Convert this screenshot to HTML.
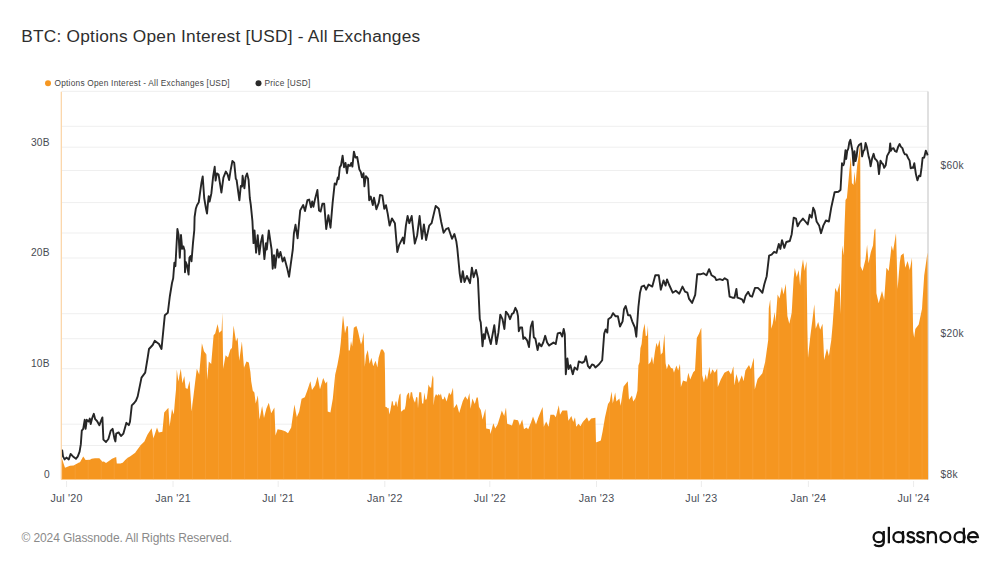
<!DOCTYPE html>
<html><head><meta charset="utf-8"><style>
html,body{margin:0;padding:0;background:#fff;width:1000px;height:563px;overflow:hidden}
svg{position:absolute;left:0;top:0;font-family:"Liberation Sans",sans-serif}
</style></head><body>
<svg width="1000" height="563" viewBox="0 0 1000 563">
<text x="21.3" y="41.6" font-size="17.3" letter-spacing="0.23" fill="#2e2e2e">BTC: Options Open Interest [USD] - All Exchanges</text>
<g stroke="#efefef" stroke-width="1"><line x1="62" x2="927" y1="126.3" y2="126.3"/><line x1="62" x2="927" y1="147.2" y2="147.2"/><line x1="62" x2="927" y1="170.5" y2="170.5"/><line x1="62" x2="927" y1="202.6" y2="202.6"/><line x1="62" x2="927" y1="233" y2="233"/><line x1="62" x2="927" y1="258" y2="258"/><line x1="62" x2="927" y1="313.7" y2="313.7"/><line x1="62" x2="927" y1="338.7" y2="338.7"/><line x1="62" x2="927" y1="368.7" y2="368.7"/><line x1="62" x2="927" y1="424.2" y2="424.2"/><line x1="62" x2="927" y1="445.5" y2="445.5"/></g>
<line x1="61.5" x2="928" y1="91.3" y2="91.3" stroke="#eeeeee" stroke-width="1"/>
<line x1="928" x2="928" y1="91.5" y2="479.5" stroke="#c6c6c6" stroke-width="1.1"/>
<defs><clipPath id="oc"><path d="M61.2 479.5L61.3 457.8L61.6 457.6L64 464.8L65 467.8L70 465.8L73.6 465.4L75 464.8L79 462.4L80 462.3L83.2 456.4L83.8 457.3L85.6 460L90 459.8L91.6 458.8L95 458.3L99.4 458.2L100 459L102.4 461.8L103.9 461.5L106 463L110 460.3L112 458.8L116.2 457L116.8 463.6L120.4 463.6L122.7 462.8L125.2 460L127.7 457.8L130 456.4L135.2 452.8L136 451.6L140.8 445L144.4 441.4L147.4 434.8L151.6 428.2L153.4 438.4L157 427.6L158.8 432.4L162.4 431.8L164.2 412.6L168.4 407.8L169.6 426.4L172 409L173.8 414.4L175 400L176 389.6L176.8 369.6L178.4 381.6L180.8 368.8L182.4 383.2L184.3 376L185.6 388L187.5 389L189.6 380.8L191.6 411.4L195.2 381.6L196.8 368.8L199.2 374.4L201.9 343.2L204 351.2L206.4 354.4L207.2 380L208.8 361.6L211.2 364L213.6 335.2L215.2 333.6L217.6 324L219.2 332.8L221.6 330.4L222.4 312.8L223.2 368.8L225.6 355.2L228 357.6L230.4 349.6L232 348L233.6 325.6L236 341.6L237.6 337.6L239.2 360.8L241.9 341.6L244 368L246.4 361.6L248.8 362.4L250.4 372L251.2 381.2L252.8 390.8L254.4 392.4L255.7 403.6L257.9 395.6L259.5 419.6L262.1 406L264 418L266.4 408.4L268.8 402.8L271.2 413.2L274.4 407.6L275.5 435.6L277.6 429.2L281.6 430L285.6 431.6L288 433.2L291.2 427.6L294.4 404.4L296.8 417.2L299.2 411.6L301.6 398.8L304.8 397.2L307.2 390.8L310.4 381.2L312 390L315.2 385.2L317.6 376.4L320 389.2L323.2 378L325.6 383.6L327.2 381.2L327.7 411.6L330.4 412.4L332.8 398.8L335.1 375.2L337.4 365L339.6 353L340.8 342.2L342 326.6L343 315.2L343.8 321.8L345 333.2L346.8 326L348 326.6L348.6 350.6L349.8 350.6L351 341L352.2 346.4L353.8 327.8L356.4 326L357.9 330.8L359.4 337.4L361 344.6L362.2 341L363.6 332L364.8 366.8L366 355.4L367.8 350L369.6 363.8L371.4 357.8L373.2 366.2L375.6 360.8L377.4 367.4L378.6 357.8L381 349.4L382.8 349.4L384.6 353L385 372L385.4 406.8L386.8 407.3L387.7 408.6L388.5 407.7L389.3 414.4L390.3 410.8L391.2 405.5L391.9 401.1L392.8 401.5L393.4 405.5L394.8 405.5L395.6 401.5L396.5 401.5L397.2 407.3L398.3 400.2L399.4 394.8L400.5 393.5L401 411.7L402.3 410.8L403.6 409.5L404.7 409.5L405.6 405.5L406.7 395.7L407.9 393.5L409 392.6L409.7 399.3L410.7 392.2L412.1 392.2L412.7 396.6L413.8 400.2L415 402.8L416.2 397.1L417.4 397.5L418 408.2L419.2 392.2L421.2 392.2L422.1 403.3L423.2 403.7L424.5 392.6L425.4 399.7L426.7 399.3L427.6 393.1L428.5 384.6L429.8 387.3L431.1 387.7L432 379.8L432.7 375.3L433.4 378L433.6 405.5L434.5 397.5L436 394L437.4 395.7L438.7 394L440 395.7L440.9 393.5L442.2 399.3L443.6 399.3L444.6 396.2L446.6 401.6L449 392.6L450.8 395L453 387.8L453.8 408.2L456.8 404L459.2 413L462.8 401L465.2 396.2L467.6 399.8L469.4 393L470.6 408.8L472.4 398.6L474.8 404L476.6 397.4L477.8 397.4L479 407L480.8 410L482.6 419.6L485.4 408.8L486.2 428.6L489.8 429.2L490.4 434L493.4 423.2L495.2 428.6L497.6 424.4L500.6 414.8L501.8 410.6L504.2 416L506 407.4L507.2 423.8L512 425.6L513.8 419.6L518 420.2L519.8 425.6L522.2 419.6L524 429.2L526.4 427.4L528.2 429.2L531.2 422L533 416.6L536 424.4L538.4 417.2L542.6 407L543.8 426.8L546.2 421.4L548.6 426.8L550.4 414.8L554 414.8L555.8 417.2L558.8 405.2L560 414.8L562.4 410.6L567.2 410.6L568.4 420.8L571.4 416L573.2 422L575 417.2L576.2 426.8L578.6 423.8L580.4 426.2L582.8 422L587 417.2L588.8 421.4L591.2 418.4L595.4 417.8L596 442.4L600.8 440.6L602.6 431.6L605 417.2L608 404L609.8 401.6L611.6 391.4L612.8 403.4L615.2 392.6L616.4 401.6L619.4 398.6L620.6 405.8L623.6 386.6L627.8 381.2L629 399.8L632 395.6L633.2 401.6L635.6 398L637.4 390.8L638.4 365.6L639.6 362L640.4 348.2L641.6 344L642.8 332L644.6 323.6L645.8 336.2L647 335.6L648 325.4L648.4 364.4L650.6 362L652 356.6L653.2 364.4L654.8 352.4L656.4 342.8L657.8 347L659.6 339.8L660.8 354.8L662.6 352.4L664.4 333.8L665.6 363.2L666.8 369.2L668.6 363.8L671 368L672.8 368.6L674 372.8L676.4 365.6L678.2 370.4L680 363.8L680.9 387L683 380.6L686.6 381.8L688.4 372.8L690.2 379.4L693.2 372.2L695 370.4L696.8 338L699.2 333.2L701.3 327.8L702.2 375.2L704 382.4L705.6 374L707 380L709.4 366.8L710.6 374.6L712.4 369.2L714.8 372.8L717.2 368.6L717.8 387L720.8 379.4L724.4 372.8L728.6 370.4L731 374.6L733.4 366.2L734.4 385.4L736.4 374L738.8 383L741.8 375.2L743.6 381.2L745.4 370.4L749 365L750.8 369.2L753.8 357.8L754.8 389.4L757.6 378.9L762.4 373.2L765.2 361.8L768.2 340L768.8 308.2L770.2 299.4L771.3 328.7L772.7 323.8L774.7 312.1L775.6 321.9L777.6 294.5L779.5 298.4L781.9 286.7L783.5 294.5L785.8 283.7L787.4 316L789.3 323.8L791.7 313.1L793.6 278.9L794.8 268.1L796.7 276.9L798.7 270.1L800.1 285.7L801.4 269.1L803 259.3L804.6 271L806.5 261.3L807.4 330L808 358L810.4 335.5L812.4 319.9L814.3 304.3L815.7 328.7L818.2 321.9L820.2 329.7L822.5 323.8L823.5 345L824.1 359.9L827 348.5L828.9 356.1L831.3 340L832.7 323.8L835.2 287.7L837.2 292.5L839.7 282.8L840.5 314L842.1 245.6L843.6 255.4L844.6 226L845.5 200L846.9 197.9L849.3 171.5L850.9 156.4L851.9 183L853.5 185L854.5 171.5L855.6 184L857.1 166.3L858.7 155.4L859.7 147.1L860.2 147.5L860.6 266.2L862.6 271L865.5 259.3L867.1 244.7L868.5 263.2L871 251.5L873 245.6L874.4 230.1L875.4 228.6L876.4 293.3L878.7 303.3L882 291.1L884.2 300L886.4 267.8L888.7 271.1L891.6 245.6L893.1 251.1L896 233.3L897.6 288.9L899.8 262.2L900.9 255.6L903.6 253.3L905.3 267.8L907.6 261.1L909.8 270L912 257.8L913.1 331.1L914.2 337.8L915.3 328.9L918.7 324.4L922 308.9L924.2 275.6L927.5 252.5L928 479.5Z"/></clipPath></defs>
<path d="M61.2 479.5L61.3 457.8L61.6 457.6L64 464.8L65 467.8L70 465.8L73.6 465.4L75 464.8L79 462.4L80 462.3L83.2 456.4L83.8 457.3L85.6 460L90 459.8L91.6 458.8L95 458.3L99.4 458.2L100 459L102.4 461.8L103.9 461.5L106 463L110 460.3L112 458.8L116.2 457L116.8 463.6L120.4 463.6L122.7 462.8L125.2 460L127.7 457.8L130 456.4L135.2 452.8L136 451.6L140.8 445L144.4 441.4L147.4 434.8L151.6 428.2L153.4 438.4L157 427.6L158.8 432.4L162.4 431.8L164.2 412.6L168.4 407.8L169.6 426.4L172 409L173.8 414.4L175 400L176 389.6L176.8 369.6L178.4 381.6L180.8 368.8L182.4 383.2L184.3 376L185.6 388L187.5 389L189.6 380.8L191.6 411.4L195.2 381.6L196.8 368.8L199.2 374.4L201.9 343.2L204 351.2L206.4 354.4L207.2 380L208.8 361.6L211.2 364L213.6 335.2L215.2 333.6L217.6 324L219.2 332.8L221.6 330.4L222.4 312.8L223.2 368.8L225.6 355.2L228 357.6L230.4 349.6L232 348L233.6 325.6L236 341.6L237.6 337.6L239.2 360.8L241.9 341.6L244 368L246.4 361.6L248.8 362.4L250.4 372L251.2 381.2L252.8 390.8L254.4 392.4L255.7 403.6L257.9 395.6L259.5 419.6L262.1 406L264 418L266.4 408.4L268.8 402.8L271.2 413.2L274.4 407.6L275.5 435.6L277.6 429.2L281.6 430L285.6 431.6L288 433.2L291.2 427.6L294.4 404.4L296.8 417.2L299.2 411.6L301.6 398.8L304.8 397.2L307.2 390.8L310.4 381.2L312 390L315.2 385.2L317.6 376.4L320 389.2L323.2 378L325.6 383.6L327.2 381.2L327.7 411.6L330.4 412.4L332.8 398.8L335.1 375.2L337.4 365L339.6 353L340.8 342.2L342 326.6L343 315.2L343.8 321.8L345 333.2L346.8 326L348 326.6L348.6 350.6L349.8 350.6L351 341L352.2 346.4L353.8 327.8L356.4 326L357.9 330.8L359.4 337.4L361 344.6L362.2 341L363.6 332L364.8 366.8L366 355.4L367.8 350L369.6 363.8L371.4 357.8L373.2 366.2L375.6 360.8L377.4 367.4L378.6 357.8L381 349.4L382.8 349.4L384.6 353L385 372L385.4 406.8L386.8 407.3L387.7 408.6L388.5 407.7L389.3 414.4L390.3 410.8L391.2 405.5L391.9 401.1L392.8 401.5L393.4 405.5L394.8 405.5L395.6 401.5L396.5 401.5L397.2 407.3L398.3 400.2L399.4 394.8L400.5 393.5L401 411.7L402.3 410.8L403.6 409.5L404.7 409.5L405.6 405.5L406.7 395.7L407.9 393.5L409 392.6L409.7 399.3L410.7 392.2L412.1 392.2L412.7 396.6L413.8 400.2L415 402.8L416.2 397.1L417.4 397.5L418 408.2L419.2 392.2L421.2 392.2L422.1 403.3L423.2 403.7L424.5 392.6L425.4 399.7L426.7 399.3L427.6 393.1L428.5 384.6L429.8 387.3L431.1 387.7L432 379.8L432.7 375.3L433.4 378L433.6 405.5L434.5 397.5L436 394L437.4 395.7L438.7 394L440 395.7L440.9 393.5L442.2 399.3L443.6 399.3L444.6 396.2L446.6 401.6L449 392.6L450.8 395L453 387.8L453.8 408.2L456.8 404L459.2 413L462.8 401L465.2 396.2L467.6 399.8L469.4 393L470.6 408.8L472.4 398.6L474.8 404L476.6 397.4L477.8 397.4L479 407L480.8 410L482.6 419.6L485.4 408.8L486.2 428.6L489.8 429.2L490.4 434L493.4 423.2L495.2 428.6L497.6 424.4L500.6 414.8L501.8 410.6L504.2 416L506 407.4L507.2 423.8L512 425.6L513.8 419.6L518 420.2L519.8 425.6L522.2 419.6L524 429.2L526.4 427.4L528.2 429.2L531.2 422L533 416.6L536 424.4L538.4 417.2L542.6 407L543.8 426.8L546.2 421.4L548.6 426.8L550.4 414.8L554 414.8L555.8 417.2L558.8 405.2L560 414.8L562.4 410.6L567.2 410.6L568.4 420.8L571.4 416L573.2 422L575 417.2L576.2 426.8L578.6 423.8L580.4 426.2L582.8 422L587 417.2L588.8 421.4L591.2 418.4L595.4 417.8L596 442.4L600.8 440.6L602.6 431.6L605 417.2L608 404L609.8 401.6L611.6 391.4L612.8 403.4L615.2 392.6L616.4 401.6L619.4 398.6L620.6 405.8L623.6 386.6L627.8 381.2L629 399.8L632 395.6L633.2 401.6L635.6 398L637.4 390.8L638.4 365.6L639.6 362L640.4 348.2L641.6 344L642.8 332L644.6 323.6L645.8 336.2L647 335.6L648 325.4L648.4 364.4L650.6 362L652 356.6L653.2 364.4L654.8 352.4L656.4 342.8L657.8 347L659.6 339.8L660.8 354.8L662.6 352.4L664.4 333.8L665.6 363.2L666.8 369.2L668.6 363.8L671 368L672.8 368.6L674 372.8L676.4 365.6L678.2 370.4L680 363.8L680.9 387L683 380.6L686.6 381.8L688.4 372.8L690.2 379.4L693.2 372.2L695 370.4L696.8 338L699.2 333.2L701.3 327.8L702.2 375.2L704 382.4L705.6 374L707 380L709.4 366.8L710.6 374.6L712.4 369.2L714.8 372.8L717.2 368.6L717.8 387L720.8 379.4L724.4 372.8L728.6 370.4L731 374.6L733.4 366.2L734.4 385.4L736.4 374L738.8 383L741.8 375.2L743.6 381.2L745.4 370.4L749 365L750.8 369.2L753.8 357.8L754.8 389.4L757.6 378.9L762.4 373.2L765.2 361.8L768.2 340L768.8 308.2L770.2 299.4L771.3 328.7L772.7 323.8L774.7 312.1L775.6 321.9L777.6 294.5L779.5 298.4L781.9 286.7L783.5 294.5L785.8 283.7L787.4 316L789.3 323.8L791.7 313.1L793.6 278.9L794.8 268.1L796.7 276.9L798.7 270.1L800.1 285.7L801.4 269.1L803 259.3L804.6 271L806.5 261.3L807.4 330L808 358L810.4 335.5L812.4 319.9L814.3 304.3L815.7 328.7L818.2 321.9L820.2 329.7L822.5 323.8L823.5 345L824.1 359.9L827 348.5L828.9 356.1L831.3 340L832.7 323.8L835.2 287.7L837.2 292.5L839.7 282.8L840.5 314L842.1 245.6L843.6 255.4L844.6 226L845.5 200L846.9 197.9L849.3 171.5L850.9 156.4L851.9 183L853.5 185L854.5 171.5L855.6 184L857.1 166.3L858.7 155.4L859.7 147.1L860.2 147.5L860.6 266.2L862.6 271L865.5 259.3L867.1 244.7L868.5 263.2L871 251.5L873 245.6L874.4 230.1L875.4 228.6L876.4 293.3L878.7 303.3L882 291.1L884.2 300L886.4 267.8L888.7 271.1L891.6 245.6L893.1 251.1L896 233.3L897.6 288.9L899.8 262.2L900.9 255.6L903.6 253.3L905.3 267.8L907.6 261.1L909.8 270L912 257.8L913.1 331.1L914.2 337.8L915.3 328.9L918.7 324.4L922 308.9L924.2 275.6L927.5 252.5L928 479.5Z" fill="#f69721"/>
<g stroke="#f9a94c" stroke-width="0.6" opacity="0.6" clip-path="url(#oc)"><line x1="62.2" x2="62.2" y1="140" y2="479.5"/><line x1="75.2" x2="75.2" y1="140" y2="479.5"/><line x1="88.2" x2="88.2" y1="140" y2="479.5"/><line x1="101.3" x2="101.3" y1="140" y2="479.5"/><line x1="114.3" x2="114.3" y1="140" y2="479.5"/><line x1="127.3" x2="127.3" y1="140" y2="479.5"/><line x1="140.3" x2="140.3" y1="140" y2="479.5"/><line x1="153.4" x2="153.4" y1="140" y2="479.5"/><line x1="166.4" x2="166.4" y1="140" y2="479.5"/><line x1="179.4" x2="179.4" y1="140" y2="479.5"/><line x1="192.5" x2="192.5" y1="140" y2="479.5"/><line x1="205.5" x2="205.5" y1="140" y2="479.5"/><line x1="218.5" x2="218.5" y1="140" y2="479.5"/><line x1="231.6" x2="231.6" y1="140" y2="479.5"/><line x1="244.6" x2="244.6" y1="140" y2="479.5"/><line x1="257.6" x2="257.6" y1="140" y2="479.5"/><line x1="270.6" x2="270.6" y1="140" y2="479.5"/><line x1="283.7" x2="283.7" y1="140" y2="479.5"/><line x1="296.7" x2="296.7" y1="140" y2="479.5"/><line x1="309.7" x2="309.7" y1="140" y2="479.5"/><line x1="322.8" x2="322.8" y1="140" y2="479.5"/><line x1="335.8" x2="335.8" y1="140" y2="479.5"/><line x1="348.8" x2="348.8" y1="140" y2="479.5"/><line x1="361.9" x2="361.9" y1="140" y2="479.5"/><line x1="374.9" x2="374.9" y1="140" y2="479.5"/><line x1="387.9" x2="387.9" y1="140" y2="479.5"/><line x1="400.9" x2="400.9" y1="140" y2="479.5"/><line x1="414.0" x2="414.0" y1="140" y2="479.5"/><line x1="427.0" x2="427.0" y1="140" y2="479.5"/><line x1="440.0" x2="440.0" y1="140" y2="479.5"/><line x1="453.1" x2="453.1" y1="140" y2="479.5"/><line x1="466.1" x2="466.1" y1="140" y2="479.5"/><line x1="479.1" x2="479.1" y1="140" y2="479.5"/><line x1="492.2" x2="492.2" y1="140" y2="479.5"/><line x1="505.2" x2="505.2" y1="140" y2="479.5"/><line x1="518.2" x2="518.2" y1="140" y2="479.5"/><line x1="531.2" x2="531.2" y1="140" y2="479.5"/><line x1="544.3" x2="544.3" y1="140" y2="479.5"/><line x1="557.3" x2="557.3" y1="140" y2="479.5"/><line x1="570.3" x2="570.3" y1="140" y2="479.5"/><line x1="583.4" x2="583.4" y1="140" y2="479.5"/><line x1="596.4" x2="596.4" y1="140" y2="479.5"/><line x1="609.4" x2="609.4" y1="140" y2="479.5"/><line x1="622.5" x2="622.5" y1="140" y2="479.5"/><line x1="635.5" x2="635.5" y1="140" y2="479.5"/><line x1="648.5" x2="648.5" y1="140" y2="479.5"/><line x1="661.5" x2="661.5" y1="140" y2="479.5"/><line x1="674.6" x2="674.6" y1="140" y2="479.5"/><line x1="687.6" x2="687.6" y1="140" y2="479.5"/><line x1="700.6" x2="700.6" y1="140" y2="479.5"/><line x1="713.7" x2="713.7" y1="140" y2="479.5"/><line x1="726.7" x2="726.7" y1="140" y2="479.5"/><line x1="739.7" x2="739.7" y1="140" y2="479.5"/><line x1="752.8" x2="752.8" y1="140" y2="479.5"/><line x1="765.8" x2="765.8" y1="140" y2="479.5"/><line x1="778.8" x2="778.8" y1="140" y2="479.5"/><line x1="791.8" x2="791.8" y1="140" y2="479.5"/><line x1="804.9" x2="804.9" y1="140" y2="479.5"/><line x1="817.9" x2="817.9" y1="140" y2="479.5"/><line x1="830.9" x2="830.9" y1="140" y2="479.5"/><line x1="844.0" x2="844.0" y1="140" y2="479.5"/><line x1="857.0" x2="857.0" y1="140" y2="479.5"/><line x1="870.0" x2="870.0" y1="140" y2="479.5"/><line x1="883.1" x2="883.1" y1="140" y2="479.5"/><line x1="896.1" x2="896.1" y1="140" y2="479.5"/><line x1="909.1" x2="909.1" y1="140" y2="479.5"/><line x1="922.1" x2="922.1" y1="140" y2="479.5"/></g>
<path d="M61.3 450.2L62.2 450.4L63 456.4L64.6 459.4L66.4 457.6L68.8 459.4L70.6 454L73 456.4L76 458.8L77.8 456.4L79.6 451.6L80.8 444.4L81.8 430.6L83.2 428.8L84.7 419.8L85.6 428.8L86.8 419.8L88.6 421.6L89.8 418.6L90.7 424L92.2 418L93.8 413.8L95.2 419.2L97 421L99.4 425.2L101.2 420.4L102.4 417.4L103.4 439.6L106 442L108.4 439L110.8 430.6L112.6 428.8L114.4 438.4L115.4 441.4L116.2 433.6L118.6 432.4L121 436L123.4 433.6L126.4 422.8L128.8 425.2L130 421.6L131.8 405.4L134.2 403L136 400.6L137.7 396.4L141.5 377.6L145.2 372.6L147.7 357.5L149 349L152.7 345L154.7 340.8L159 344L161.5 349L164.8 315.3L167.8 312.8L169.8 296.5L172 283L173.2 278.2L174.4 262.6L175.4 266.2L177.4 229L178.6 235L179.8 257.8L181 235L182.2 248.8L183.4 246.4L184.6 250.6L185 272.2L185.8 262L187 265L188.6 274.6L189.4 257.8L190.6 256L191.5 261.4L193 242.8L194.3 230L194.6 217L195.8 208.8L197 205.2L198.8 202.2L200 193.2L201.5 182.4L202.7 176.4L204.2 198L206 208.8L207 213.6L208.2 200.4L208.7 196.2L209.6 201.6L211.4 193.2L213.2 175.8L214.7 166.8L215.6 180.6L216.8 173.4L218.6 174.6L221.4 192.6L223.4 177.6L225.8 171.6L227.6 174.6L229.1 180L230.6 170.4L232.4 161L234.2 162.6L235.8 178.8L236.6 180L239.4 200.4L240.8 186L242 186.6L242.6 175.8L244.4 188.4L245.6 177L247.1 173.4L248.6 180L249.8 198L250.8 204.8L252.4 220.8L253.5 243.1L254.5 230.4L256.1 252.7L257.7 235.1L259.3 254.3L260.9 242.3L262.5 235.1L264.4 259.1L266 243.1L266.8 249.5L268.8 230.4L270.4 241.5L271.6 249.5L272.7 268.7L274 255.1L275.2 267.9L277.2 249.5L278.8 257.5L280.4 251.9L282.7 261.5L284.3 257.5L287.1 267.9L289.1 276.7L290.7 264.7L292.8 249.5L293.9 233.5L295.5 224.8L297.6 238.3L300.2 210.4L303.2 205L305 211L307.4 200.2L309.2 199.6L311 207.4L312.2 201.4L313.4 206.8L315.2 198.4L317.4 190L319 210.4L320.6 211.6L322.4 203.8L324.2 203.8L326.2 229L328.4 215.2L330.5 227.7L332.6 203.2L334.7 183.4L336.2 184.6L337.8 177.4L338.6 179.2L339.8 167.2L341 165.4L342.6 155.6L344 167.2L345.5 163L347 173.2L348.2 164.8L350 166L351.2 163L352.4 166.6L353.9 151.6L355.4 157.6L357.2 157L359.4 169.6L360.8 172L362 177.4L363.5 173.2L364.4 186.4L365.9 176.2L368 178.6L369.2 200.2L370.7 196.6L372.8 205L374 197.8L376.4 209.2L378.8 202.6L380 194.9L382.4 195.6L384.3 208.8L386 205.2L387.7 213.6L389.6 225.6L392 218.4L394.9 223.2L397.3 252L399.2 244.8L402.8 237.6L404 243.6L405.9 225.6L407.6 216L409.3 223.2L411.7 216L414.8 243.6L417.2 235.2L419.6 216L422 238.8L423.9 224.4L426.1 240L429.2 225.6L431.6 223.2L435.7 205.9L438.8 208.8L441.2 222L443.6 232.8L446 229.2L448.4 228L452 238.8L454.4 234L456.3 241.2L457.3 248.4L459.7 273.6L461.1 282L462.8 271.2L464.5 282L466.9 276L470 283.2L471.9 267.6L473.6 277.2L476 270L477.9 278.4L479.6 315L479.8 319.2L480.7 322.2L481.8 335.8L482.5 346.3L483.7 334.2L484.8 338.8L486.3 327.5L488.6 335.8L490.8 344.1L492.3 335.8L494.3 325.2L496.4 344.1L498.4 332.7L500.3 314.6L502.5 319.2L504.4 329L505.9 311.6L508.2 314.6L510 319.2L512 313.9L513.5 313.1L515.4 307.8L516.9 310.8L518 316.1L518.8 331.2L520.3 327.5L522.1 327.5L523.3 338.8L524.8 337.3L527.1 340.3L529 347.1L530.8 326.7L532.6 321.4L533.8 337.3L535.4 338.8L537.6 350.1L539.1 343.3L541.4 346.3L543.2 342.5L545.2 335.8L547.1 342.5L549.2 345.6L551.2 344.1L553.5 342.5L555.7 344.1L557.7 333.5L560.3 332.7L562.2 336.5L563.7 329L564.8 334.2L565.8 374.2L567.4 358.4L568.6 369L570.4 365.2L572.8 374.2L574.6 367.5L577.3 369.7L578.8 361.4L582.2 362.9L584.4 361.4L585.9 356.1L587.9 365.9L589.7 368.2L592 364.4L593.9 365.2L595.4 367.5L598 365.2L599.1 364.3L602.2 360.2L604.2 333.6L605.6 329.5L607.3 332.6L608.3 319.3L611 317.3L613 313.2L615.4 316.2L617.9 316.2L620 326.5L622.6 321.3L624 309.1L625.7 306L628.1 315.2L630.2 315.2L632.2 321.3L634.9 327.5L636.3 336.7L638.4 307L640 292.7L641.6 286.6L644.1 285.6L646.1 289.7L648.6 284.5L652.3 286.6L655.3 275.3L658.8 275.3L660.8 289.7L663.5 280.4L665.6 285.6L667 279.4L669 284.5L672.7 292.7L675.8 290.7L679.3 293.7L682.5 286.6L685 291.7L687.4 292.7L689.1 298.9L692.1 302.9L695.2 294.8L697.2 274.3L700.3 274.3L703.4 273.3L706.5 275.3L709.1 269.2L711.6 275.3L715 277.4L716.3 280.1L719.8 279.1L722.7 280.1L724.7 278.2L727.6 280.1L729.6 296.7L732.5 297.7L734.5 297.7L736.4 288.9L737.4 297.7L740.3 298.7L742.3 299.7L743.7 302.6L745.6 295.8L748.2 291.9L750.1 295.8L752.1 296.7L755 287.9L757.9 287.9L759.9 289.9L762.4 292.8L764.4 284L766.7 276.2L769.1 255.7L771.6 254.7L774.1 251.8L776.5 252.8L778.8 244L780.4 248.9L782 240.1L784.3 247.9L786.3 242L789.8 241L791.7 234.2L793.7 217.6L796 218.6L797.6 226.4L799.6 222.5L802.9 218.6L805.4 221.5L807.8 224.4L809.7 214.7L811.7 217.6L813.2 207.8L814.6 210.7L816.6 221.5L819.1 225.4L821 233.2L823.4 225.4L825.9 220.5L828.9 221.5L831.2 207.8L831.7 205.5L834.6 192.2L838.4 191.8L840.5 190L842 163.2L843.4 165.3L844.1 163.2L845.5 150.2L846.2 159L847.2 151.2L848.3 148.6L849.3 142.4L850.4 139.8L851.4 145.5L852.4 150.7L853.5 165.3L854.5 151.2L855.6 161.1L856.6 156.4L857.6 147.6L859 145L861.1 143.4L862.1 156.4L863.4 151.2L864.6 149.7L865.6 142.9L867 147.6L868.6 156.4L869.6 159.6L870.6 166.3L872.2 158L873.6 153.8L874.8 158.5L876.4 160.1L877.7 162.2L879 174.1L880.5 160.6L881.9 163.2L883.1 164.2L884.2 167.9L885.7 165.3L887.1 155.9L888.3 153.8L889.4 151.8L890.2 143.4L890.9 150.7L892 148.6L893.5 148.1L895.1 151.2L896.6 151.8L898.2 146.6L899.6 144L900.8 146.6L902.4 148.1L903.7 152.3L905 154.4L906.5 154.4L908.1 158L909.6 160.6L910.7 168.4L912 167.4L913.1 167.9L914.3 163.2L915.9 174.1L917.4 180.4L919 175.7L920.4 176.2L921.6 167.4L922.6 158L924.2 157.5L925.8 150.7L926.8 152.8L927.6 155.4" fill="none" stroke="#262626" stroke-width="1.9" stroke-linejoin="round"/>
<line x1="61.3" x2="61.3" y1="91.8" y2="479.5" stroke="#fbd3a3" stroke-width="1.2"/>
<g stroke="#ececec" stroke-width="1"><line x1="66.6" x2="66.6" y1="481" y2="487"/><line x1="173.0" x2="173.0" y1="481" y2="487"/><line x1="278.2" x2="278.2" y1="481" y2="487"/><line x1="384.8" x2="384.8" y1="481" y2="487"/><line x1="489.8" x2="489.8" y1="481" y2="487"/><line x1="596.5" x2="596.5" y1="481" y2="487"/><line x1="701.4" x2="701.4" y1="481" y2="487"/><line x1="808.4" x2="808.4" y1="481" y2="487"/><line x1="913.6" x2="913.6" y1="481" y2="487"/></g>
<g font-size="10.7" letter-spacing="0.22" fill="#4a4e57" text-anchor="middle"><text x="66.6" y="502">Jul '20</text><text x="173.0" y="502">Jan '21</text><text x="278.2" y="502">Jul '21</text><text x="384.8" y="502">Jan '22</text><text x="489.8" y="502">Jul '22</text><text x="596.5" y="502">Jan '23</text><text x="701.4" y="502">Jul '23</text><text x="808.4" y="502">Jan '24</text><text x="913.6" y="502">Jul '24</text></g>
<g font-size="10.2" letter-spacing="0.25" fill="#474a52" text-anchor="end">
<text x="49.8" y="145.6">30B</text><text x="49.8" y="256.4">20B</text><text x="49.8" y="367">10B</text><text x="49.8" y="477.6">0</text>
</g>
<g font-size="10.2" letter-spacing="0.4" fill="#474a52">
<text x="940.4" y="168.6">$60k</text><text x="940.4" y="336.8">$20k</text><text x="940.4" y="478.3">$8k</text>
</g>
<circle cx="48" cy="83.2" r="3" fill="#f69721"/>
<text x="54.5" y="86.4" font-size="8.3" letter-spacing="0.24" fill="#444">Options Open Interest - All Exchanges [USD]</text>
<circle cx="258.5" cy="83.2" r="3" fill="#2a2a2a"/>
<text x="264.5" y="86.4" font-size="8.3" letter-spacing="0.24" fill="#444">Price [USD]</text>
<text x="21.5" y="542" font-size="12" letter-spacing="-0.1" fill="#8a8a8a">© 2024 Glassnode. All Rights Reserved.</text>
<g fill="none" stroke="#111" stroke-width="2.25">
<circle cx="878.65" cy="537.15" r="5.05"/><path d="M883.75 531V542.3Q883.75 546.15 878.9 546.15Q875.6 546.15 874.3 544.3"/>
<path d="M888.85 526.8V543.3"/>
<circle cx="898.45" cy="537.15" r="5.05"/><path d="M902.95 531V543.3"/>
<path id="s1" d="M914.1 534.3C913.5 532.8 912.3 532.05 910.9 532.05C909 532.05 907.7 533 907.7 534.6C907.7 536.3 909.2 536.8 910.9 537.15C912.8 537.5 914.35 538.1 914.35 539.8C914.35 541.5 912.9 542.25 910.9 542.25C909.2 542.25 907.8 541.5 907.2 540"/>
<path d="M923.7 534.3C923.1 532.8 921.9 532.05 920.5 532.05C918.6 532.05 917.3 533 917.3 534.6C917.3 536.3 918.8 536.8 920.5 537.15C922.4 537.5 923.95 538.1 923.95 539.8C923.95 541.5 922.5 542.25 920.5 542.25C918.8 542.25 917.4 541.5 916.8 540"/>
<path d="M927.85 531V543.3M927.85 536.6C927.85 533.6 929.5 532.05 931.9 532.05C934.3 532.05 935.95 533.6 935.95 536.6V543.3"/>
<circle cx="945.4" cy="537.15" r="4.95"/>
<circle cx="959.65" cy="537.15" r="5.05"/><path d="M963.85 527.7V543.3"/>
<path d="M968.1 537.15H977.95A4.95 4.95 0 1 0 976.6 540.6"/>
</g>
</svg>
</body></html>
